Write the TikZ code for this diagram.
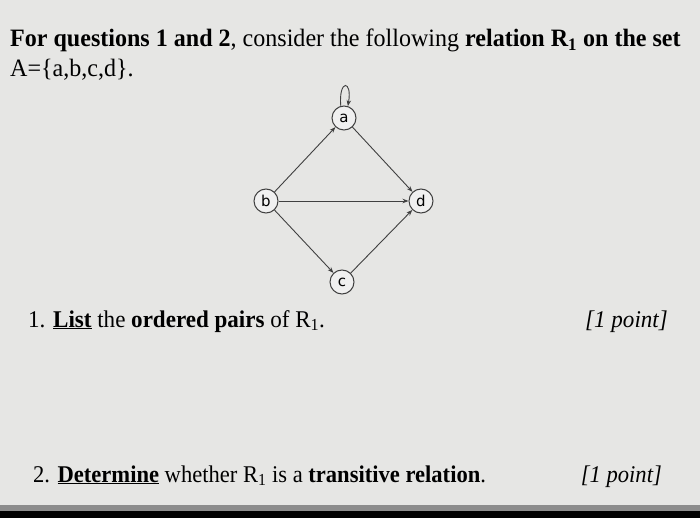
\documentclass[tikz,border=0pt]{standalone}
\usepackage{fontspec}
\setmainfont{Liberation Serif}
\newfontfamily\lblfont{DejaVu Sans}
\usetikzlibrary{arrows.meta}
\begin{document}
\begin{tikzpicture}[x=1pt,y=-1pt,
  vtx/.style={circle,draw=black!75,line width=1pt,fill=white!94!black,minimum size=24pt,inner sep=0pt,font=\lblfont\fontsize{15}{15}\selectfont},
  edge/.style={draw=black!75,line width=0.9pt,-{Stealth[length=6pt,width=4.5pt]}},
  big/.style={inner sep=0pt,font=\fontsize{25}{30}\selectfont},
  mid/.style={inner sep=0pt,font=\fontsize{24}{28}\selectfont}]
\useasboundingbox (0,0) rectangle (700,518);
\fill[fill={rgb,255:red,230;green,230;blue,228}] (0,0) rectangle (700,518);
\fill[black!45] (0,505) rectangle (700,511);
\fill[black] (0,511) rectangle (700,518);
% heading
\node[big,anchor=base west] (h1) at (10,47) {\scalebox{0.962}[1]{\textbf{For questions 1 and 2}, consider the following \textbf{relation R\textsubscript{1} on the set}}};
\node[big,anchor=base west] (h2) at (10,77) {\scalebox{0.962}[1]{A=\{a,b,c,d\}.}};
% graph
\node[vtx] (a) at (344,118) {a};
\node[vtx] (b) at (266,201) {b};
\node[vtx] (d) at (421,201) {d};
\node[vtx] (c) at (342,282) {c};
\draw[edge] (a.105) .. controls +(-95:27) and +(-80:27) .. (a.72);
\draw[edge] (b) -- (a);
\draw[edge] (a) -- (d);
\draw[edge] (b) -- (d);
\draw[edge] (b) -- (c);
\draw[edge] (c) -- (d);
% questions
\node[mid,anchor=base west] (q1) at (28,327) {\scalebox{0.96}[1]{1. \underline{\textbf{List}} the \textbf{ordered pairs} of R\textsubscript{1}.}};
\node[mid,anchor=base east] (p1) at (668,327) {\scalebox{0.96}[1]{\textit{[1 point]}}};
\node[mid,anchor=base west] (q2) at (33,482) {\scalebox{0.94}[1]{2. \underline{\textbf{Determine}} whether R\textsubscript{1} is a \textbf{transitive relation}.}};
\node[mid,anchor=base east] (p2) at (662,482) {\scalebox{0.94}[1]{\textit{[1 point]}}};
\end{tikzpicture}
\end{document}
